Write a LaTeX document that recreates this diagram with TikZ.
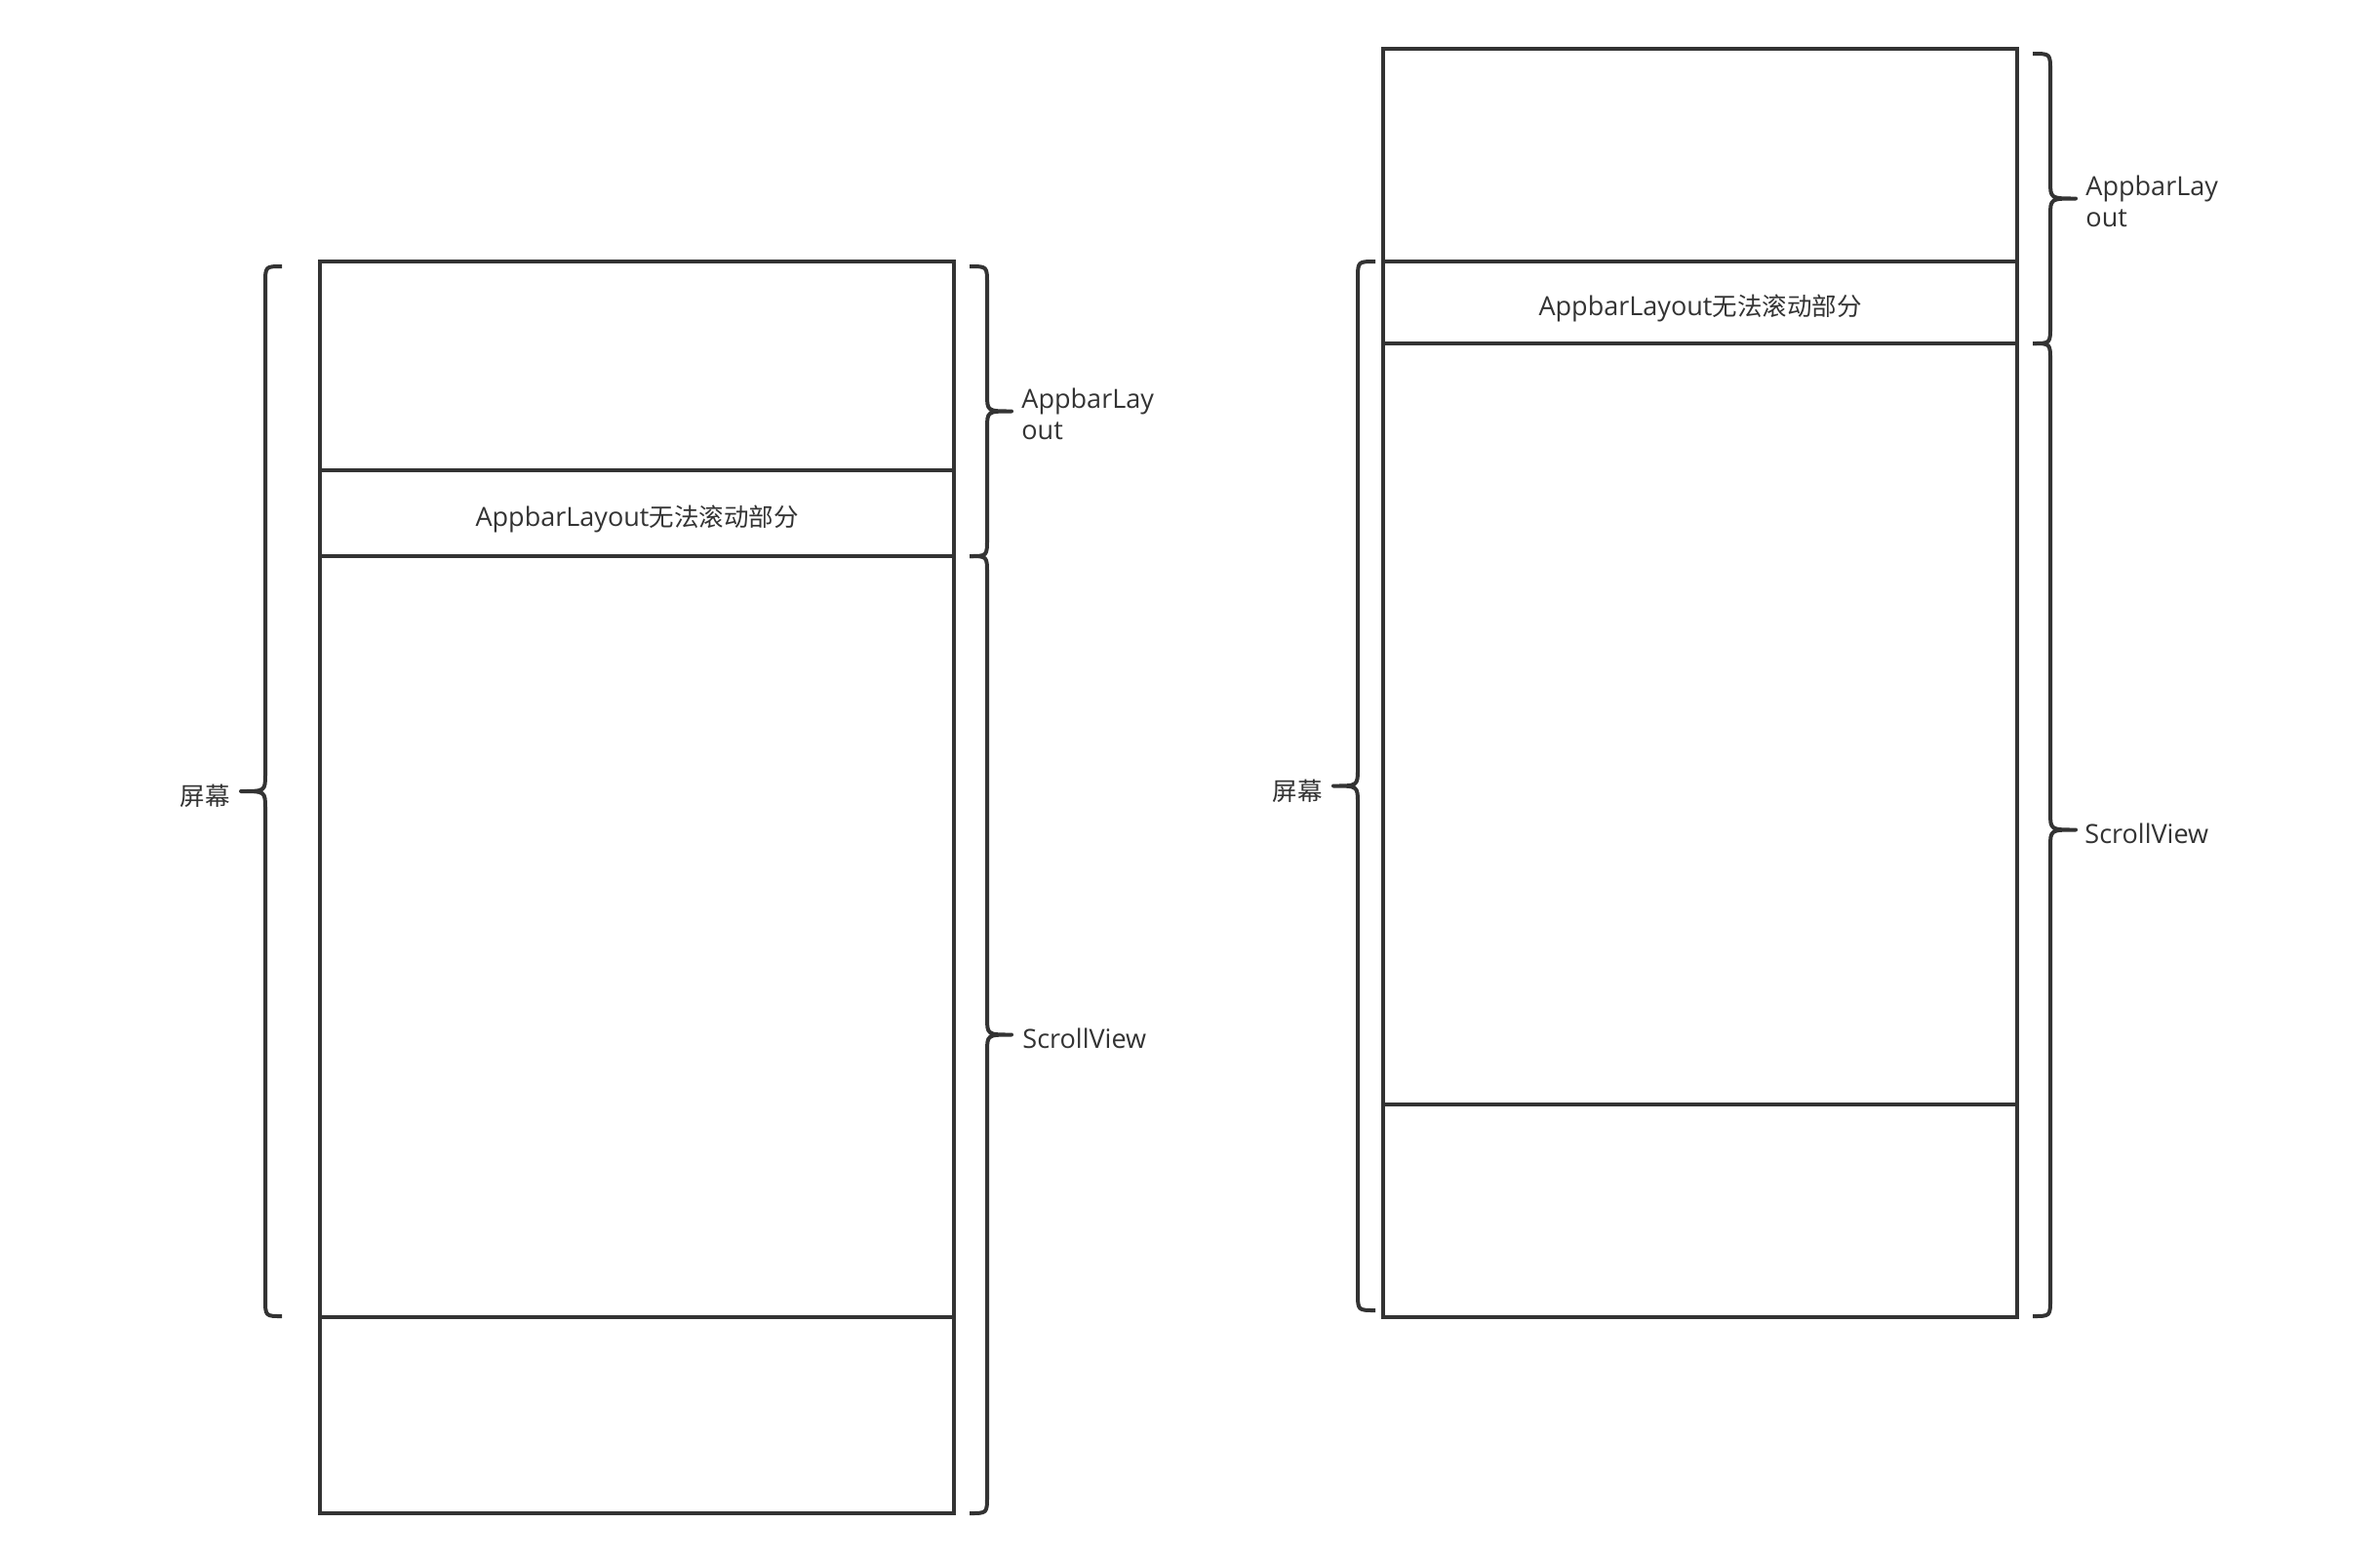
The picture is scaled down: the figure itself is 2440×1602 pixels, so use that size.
\documentclass[tikz,border=0pt]{standalone}
\usepackage{fontspec}
\setmainfont{Open Sans}[Scale=1.06]
\newfontfamily\cjk{Noto Sans CJK SC}
\definecolor{ink}{HTML}{333333}
\newcommand\mybrace[5]{%
  \draw[bracestyle] (#1,#4) .. controls (#2,#4) .. (#2,#4+18)
    -- (#2,{(#4+#5)/2-18}) .. controls (#2,{(#4+#5)/2}) .. (#3,{(#4+#5)/2})
    .. controls (#2,{(#4+#5)/2}) .. (#2,{(#4+#5)/2+18})
    -- (#2,#5-18) .. controls (#2,#5) .. (#1,#5);}
\begin{document}
\begin{tikzpicture}[x=0.5pt,y=-0.5pt,
  sect/.style={draw=ink,line width=2pt,rectangle,inner sep=0pt,minimum width=325pt},
  bracestyle/.style={draw=ink,line width=2pt,line join=round},
  lbl/.style={text=ink,inner sep=0pt,font=\fontsize{12.75pt}{16pt}\selectfont}]
\useasboundingbox (0,0) rectangle (2440,1602);
% left panel
\node[sect,minimum height=107pt]   (L1) at (653,375) {};
\node[sect,minimum height=44pt]    (L2) at (653,526) {};
\node[sect,minimum height=390pt]   (L3) at (653,960) {};
\node[sect,minimum height=100.5pt] (L4) at (653,1450.5) {};
\node[lbl] (L2t) at (653,532) {AppbarLayout{\cjk 无法滚动部分}};
% right panel
\node[sect,minimum height=109pt] (R1) at (1743,159) {};
\node[sect,minimum height=42pt]  (R2) at (1743,310) {};
\node[sect,minimum height=390pt] (R3) at (1743,742) {};
\node[sect,minimum height=109pt] (R4) at (1743,1241) {};
\node[lbl] (R2t) at (1743,316) {AppbarLayout{\cjk 无法滚动部分}};
% braces left
\mybrace{289}{272}{247}{273}{1349}
\mybrace{994}{1012}{1037}{273}{570}
\mybrace{994}{1012}{1037}{570}{1551}
% braces right
\mybrace{1410}{1392}{1367}{268}{1343}
\mybrace{2084}{2102}{2128}{55}{352}
\mybrace{2084}{2102}{2128}{352}{1349}
% labels left
\node[lbl,anchor=east] (Lscreen) at (236,816) {\cjk 屏幕};
\node[lbl,anchor=west,align=left] (Lapp) at (1047,424) {AppbarLay\\out};
\node[lbl,anchor=west] (Lscroll) at (1048,1064) {ScrollView};
% labels right
\node[lbl,anchor=east] (Rscreen) at (1356,811) {\cjk 屏幕};
\node[lbl,anchor=west,align=left] (Rapp) at (2138,206) {AppbarLay\\out};
\node[lbl,anchor=west] (Rscroll) at (2137,854) {ScrollView};
\end{tikzpicture}
\end{document}
